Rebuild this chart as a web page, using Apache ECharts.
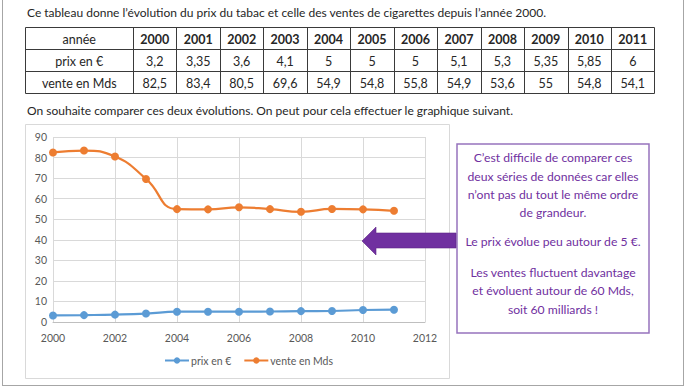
<!DOCTYPE html>
<html><head><meta charset="utf-8">
<script src="https://cdn.jsdelivr.net/npm/echarts@6/dist/echarts.min.js"></script>
<style>html,body{margin:0;padding:0;background:#fff;}#c{width:686px;height:386px;}</style>
</head><body><div id="c"></div>
<script>
// ---- data ----
const years = [2000, 2001, 2002, 2003, 2004, 2005, 2006, 2007, 2008, 2009, 2010, 2011];
const prix = [3.2, 3.35, 3.6, 4.1, 5, 5, 5, 5.1, 5.3, 5.35, 5.85, 6];
const ventes = [82.5, 83.4, 80.5, 69.6, 54.9, 54.8, 55.8, 54.9, 53.6, 55, 54.8, 54.1];
const seriesNames = ['prix en €', 'vente en Mds'];
const rowLabels = ['année', 'prix en €', 'vente en Mds'];
const xMin = 2000, xMax = 2012, xStep = 2;
const yMin = 0, yMax = 90, yStep = 10;
const introText = 'Ce tableau donne l’évolution du prix du tabac et celle des ventes de cigarettes depuis l’année 2000.';
const leadText = 'On souhaite comparer ces deux évolutions. On peut pour cela effectuer le graphique suivant.';
const noteParas = [
  ['C’est difficile de comparer ces', 'deux séries de données car elles', 'n’ont pas du tout le même ordre', 'de grandeur.'],
  ['Le prix évolue peu autour de 5 €.'],
  ['Les ventes fluctuent davantage', 'et évoluent autour de 60 Mds,', 'soit 60 milliards !']
];

// ---- layout / style ----
const FONT = 'Lato, "Open Sans", sans-serif';
const TXT = '#262626';
const PURPLE = '#7030a0';
const fmt = v => String(v).replace('.', ',');
const g = [];
function text(str, x, y, opt) {
  opt = opt || {};
  g.push({type: 'text', silent: true, z: 10, style: {
    text: str, x: x, y: y,
    font: (opt.weight || 'normal') + ' ' + (opt.size || 13) + 'px ' + FONT,
    fill: opt.color || TXT,
    align: opt.align || 'left', textAlign: opt.align || 'left',
    verticalAlign: 'middle', textVerticalAlign: 'middle'
  }});
}
function line(x1, y1, x2, y2, stroke, w) {
  g.push({type: 'line', silent: true, z: 10, shape: {x1, y1, x2, y2}, style: {stroke: stroke, lineWidth: w || 1}});
}
// slide frame
line(2.5, 0, 2.5, 385.5, '#a6a6a6', 1);
line(2, 385.5, 684, 385.5, '#a6a6a6', 1);
line(683.5, 0, 683.5, 385.5, '#a6a6a6', 1);

text(introText, 27, 12.5, {size: 12});
text(leadText, 27, 110, {size: 12});

// table
const tL = 25.5, tR = 654.5, tT = 27.5, rowH = 22, c0 = 133;
const colW = (tR - c0) / years.length;
g.push({type: 'rect', silent: true, z: 10, shape: {x: tL, y: tT, width: tR - tL, height: rowH * 3}, style: {fill: 'none', stroke: '#3a3a3a', lineWidth: 1}});
line(tL, tT + rowH, tR, tT + rowH, '#3a3a3a');
line(tL, tT + 2 * rowH, tR, tT + 2 * rowH, '#3a3a3a');
for (let i = 0; i <= years.length - 1; i++) {
  const x = Math.round(c0 + i * colW) + 0.5;
  line(x, tT, x, tT + 3 * rowH, '#3a3a3a');
}
rowLabels.forEach((l, r) => text(l, (tL + c0) / 2, tT + rowH * r + rowH / 2 + 0.5, {align: 'center', size: 12.5}));
years.forEach((y, i) => {
  const cx = c0 + i * colW + colW / 2;
  text(String(y), cx, tT + rowH / 2 + 0.5, {align: 'center', size: 12.5, weight: 'bold'});
  text(fmt(prix[i]), cx, tT + rowH * 1.5 + 0.5, {align: 'center', size: 12.5});
  text(fmt(ventes[i]), cx, tT + rowH * 2.5 + 0.5, {align: 'center', size: 12.5});
});

// chart frame
g.push({type: 'rect', silent: true, z: -1, shape: {x: 25.5, y: 124.5, width: 424, height: 254}, style: {fill: 'none', stroke: '#d9d9d9', lineWidth: 1}});

// callout box
g.push({type: 'rect', silent: true, z: 10, shape: {x: 457, y: 144, width: 192, height: 189}, style: {fill: '#fff', stroke: '#9673bd', lineWidth: 1.5}});
const lineYs = [[157, 176, 194, 212], [241], [272, 290.5, 309]];
noteParas.forEach((p, pi) => p.forEach((s, li) => text(s, 553, lineYs[pi][li], {align: 'center', size: 12.2, color: PURPLE})));

// arrow
g.push({type: 'polygon', silent: true, z: 11, shape: {points: [[362, 241], [376, 227], [376, 233], [456, 233], [456, 248], [376, 248], [376, 255]]}, style: {fill: PURPLE, stroke: '#5e2587', lineWidth: 0.6}});

const chart = echarts.init(document.getElementById('c'), null, {renderer: 'svg'});
chart.setOption({
  backgroundColor: '#fff',
  animation: false,
  textStyle: {fontFamily: FONT},
  grid: {left: 53, top: 137, right: 261, bottom: 64, containLabel: false},
  xAxis: {
    type: 'value', min: xMin, max: xMax, interval: xStep,
    axisLine: {show: true, lineStyle: {color: '#bfbfbf'}},
    axisTick: {show: false},
    axisLabel: {color: '#595959', fontSize: 10.5, margin: 10, fontFamily: FONT, formatter: v => String(v)},
    splitLine: {show: true, lineStyle: {color: '#d9d9d9'}}
  },
  yAxis: {
    type: 'value', min: yMin, max: yMax, interval: yStep,
    axisLine: {show: false}, axisTick: {show: false},
    axisLabel: {color: '#595959', fontSize: 10.5, margin: 6, fontFamily: FONT},
    splitLine: {show: true, lineStyle: {color: '#d9d9d9'}}
  },
  legend: {
    bottom: 15, left: 159, itemWidth: 24, itemHeight: 8, itemGap: 12,
    textStyle: {color: '#595959', fontSize: 10.5, padding: [0, 0, 0, -3], fontFamily: FONT},
    data: seriesNames
  },
  series: [
    {name: seriesNames[0], type: 'line', smooth: 0.5, symbol: 'circle', symbolSize: 8,
     color: '#5b9bd5', lineStyle: {width: 2.2}, data: years.map((y, i) => [y, prix[i]])},
    {name: seriesNames[1], type: 'line', smooth: 0.5, symbol: 'circle', symbolSize: 8,
     color: '#ed7d31', lineStyle: {width: 2.2}, data: years.map((y, i) => [y, ventes[i]])}
  ],
  graphic: g
});
</script></body></html>
